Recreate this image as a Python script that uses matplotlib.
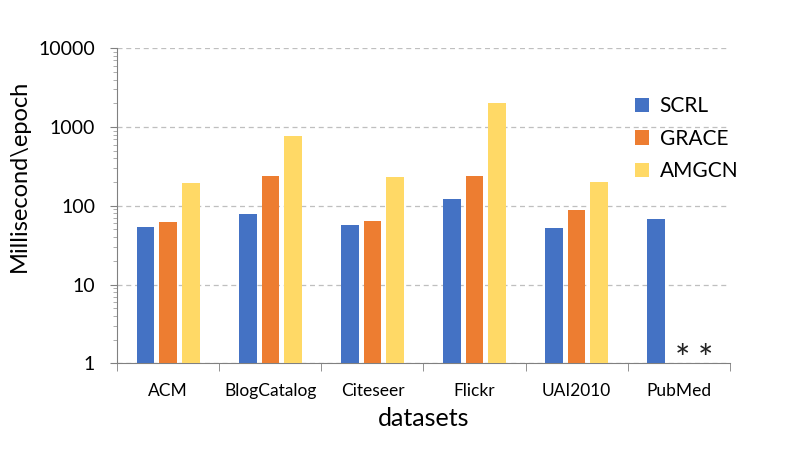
import numpy as np
import matplotlib.pyplot as plt
from matplotlib.ticker import FixedLocator, LogLocator, NullFormatter

datasets = ["ACM", "BlogCatalog", "Citeseer", "Flickr", "UAI2010", "PubMed"]
scrl = [54, 79, 57, 122, 52, 68]
grace = [62, 239, 65, 237, 88, np.nan]
amgcn = [193, 770, 234, 2040, 200, np.nan]
series = {"SCRL": scrl, "GRACE": grace, "AMGCN": amgcn}
colors = ["#4472C4", "#ED7D31", "#FFD966"]
yticks = [1, 10, 100, 1000, 10000]

plt.rcParams['font.family'] = ['Lato', 'DejaVu Sans']

fig = plt.figure(figsize=(8.01, 4.5), dpi=100)
ax = fig.add_axes([0.1464, 0.1927, 0.7646, 0.70])

x = np.arange(len(datasets))
w = 0.173
step = 0.222
for i, (name, vals) in enumerate(series.items()):
    pos = x + (i - 1) * step
    ax.bar(pos, vals, width=w, color=colors[i], label=name, zorder=3)
    # missing values marked with *
    for p, v in zip(pos, vals):
        if np.isnan(v):
            ax.text(p + 0.04, 0.66, "*", ha="center", va="bottom", clip_on=False,
                    fontsize=26, color="#222222", zorder=4)

ax.set_yscale("log")
ax.set_ylim(1, 10000)
ax.set_xlim(-0.5, len(datasets) - 0.5)
ax.yaxis.set_major_locator(FixedLocator(yticks))
ax.set_yticklabels([str(t) for t in yticks], fontsize=14)
ax.yaxis.set_minor_locator(LogLocator(base=10, subs=np.arange(2, 10)))
ax.yaxis.set_minor_formatter(NullFormatter())
ax.tick_params(axis="y", which="major", length=5, color="#808080", pad=11)
ax.tick_params(axis="y", which="minor", length=3, color="#A0A0A0")

ax.set_xticks(x)
ax.set_xticklabels(datasets, fontsize=12.5)
ax.tick_params(axis="x", which="major", length=0, pad=14)
ax.set_xticks(np.arange(-0.5, len(datasets) - 0.4, 1.0), minor=True)
ax.tick_params(axis="x", which="minor", length=6, color="#808080")

ax.grid(axis="y", which="major", linestyle=(0, (4, 3)), color="#BFBFBF", linewidth=0.9, zorder=0)
for s in ["top", "right"]:
    ax.spines[s].set_visible(False)
ax.spines["left"].set_color("#808080")
ax.spines["bottom"].set_color("#808080")

ax.set_ylabel("Millisecond\\epoch", fontsize=17)
ax.yaxis.set_label_coords(-0.142, 0.595)
ax.set_xlabel("datasets", fontsize=18, labelpad=6)

ax.legend(loc="upper left", bbox_to_anchor=(0.814, 0.907), frameon=False, fontsize=15,
          handlelength=0.7, handleheight=0.7, handletextpad=0.5, labelspacing=0.6)

fig.savefig("out.png", dpi=100)
